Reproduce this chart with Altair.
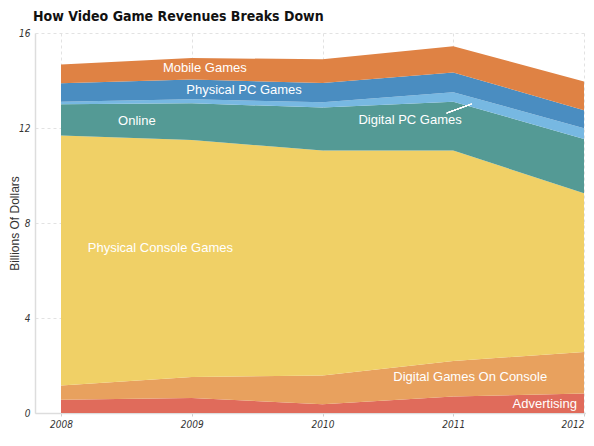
import altair as alt
import pandas as pd

years = [2008, 2009, 2010, 2011, 2012]
series = ["Advertising", "Digital Games On Console", "Physical Console Games",
          "Online", "Digital PC Games", "Physical PC Games", "Mobile Games"]
advertising = [0.56, 0.63, 0.37, 0.70, 0.82]
digital_console = [0.60, 0.89, 1.21, 1.49, 1.75]
physical_console = [10.52, 9.97, 9.47, 8.86, 6.68]
online = [1.32, 1.55, 1.81, 2.06, 2.29]
digital_pc = [0.11, 0.17, 0.22, 0.40, 0.45]
physical_pc = [0.77, 0.83, 0.82, 0.83, 0.76]
mobile = [0.79, 0.91, 0.99, 1.10, 1.21]
colors = ["#E06B5B", "#E8A15E", "#F0D066", "#549A95", "#77B8E2", "#4A8DC1", "#DF8244"]

values = [advertising, digital_console, physical_console, online, digital_pc, physical_pc, mobile]
rows = []
for i, (name, vals) in enumerate(zip(series, values)):
    for y, v in zip(years, vals):
        rows.append({"series": name, "idx": i, "year": y, "value": v})
df = pd.DataFrame(rows)

# annotation anchors (data coordinates)
label_text = ["Mobile Games", "Physical PC Games", "Online", "Digital PC Games",
              "Physical Console Games", "Digital Games On Console", "Advertising"]
label_x = [2009.10, 2009.40, 2008.58, 2010.67, 2008.76, 2011.13, 2011.70]
label_y = [14.53, 13.62, 12.29, 12.34, 6.95, 1.52, 0.38]
labels = pd.DataFrame({"text": label_text, "x": label_x, "y": label_y})

FONT = "Liberation Sans, Arial, sans-serif"
NARROW = "DejaVu Sans Condensed, Roboto Condensed, Liberation Sans Narrow, Liberation Sans, sans-serif"

xscale = alt.Scale(domain=[2007.8011, 2012.0153], nice=False, zero=False)
yscale = alt.Scale(domain=[0, 16], nice=False)

area = alt.Chart(df).mark_area(interpolate="linear").encode(
    x=alt.X("year:Q", scale=xscale,
            axis=alt.Axis(values=years, format="d", title=None, tickSize=3,
                          tickColor="#cccccc", labelPadding=3, grid=True,
                          labelAlign={"condition": {"test": "datum.value >= 2012", "value": "right"},
                                      "value": "center"})),
    y=alt.Y("value:Q", stack="zero", scale=yscale,
            axis=alt.Axis(values=[0, 4, 8, 12, 16], title="Billions Of Dollars",
                          ticks=False, labelPadding=5, grid=True,
                          titleX=-21, titleY=190, titleAngle=270,
                          titleAlign="center", titleBaseline="middle")),
    color=alt.Color("series:N", scale=alt.Scale(domain=series, range=colors), legend=None),
    order=alt.Order("idx:Q", sort="ascending"),
)

leader = alt.Chart(labels).mark_rule(color="white", strokeWidth=1).encode(
    x=alt.datum(2010.95), y=alt.datum(12.63),
    x2=alt.datum(2011.14), y2=alt.datum(13.01),
)

text = alt.Chart(labels).mark_text(
    color="white", font=FONT, fontSize=13, align="center", baseline="middle"
).encode(
    x=alt.X("x:Q", scale=xscale),
    y=alt.Y("y:Q", scale=yscale),
    text="text:N",
)

chart = alt.layer(area, leader, text).properties(
    width=551,
    height=380,
    autosize="none",
    padding={"left": 27, "top": 25, "right": 0, "bottom": 25},
    title=alt.TitleParams("How Video Game Revenues Breaks Down", anchor="start",
                          font=NARROW, fontSize=14, fontWeight="bold",
                          color="#111111", offset=4, frame="group", dx=-2),
).configure_view(stroke=None).configure_axis(
    domainColor="#dddddd", domainWidth=1.5,
    gridColor="#e2e2e2", gridDash=[3, 3],
    labelFont=NARROW, labelFontStyle="italic", labelFontSize=10, labelColor="#333333",
    titleFont=FONT, titleFontSize=12, titleFontWeight="normal", titleColor="#333333",
)

chart.save("out.html", embed_options={"renderer": "svg", "actions": False})
